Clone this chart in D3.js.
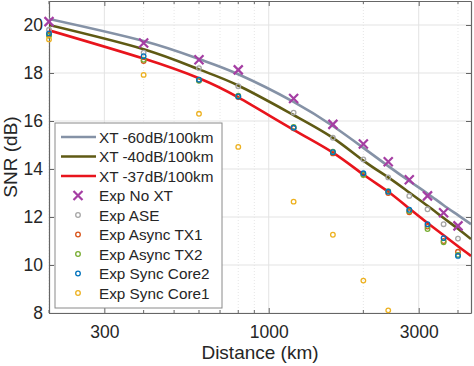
<!DOCTYPE html>
<html><head><meta charset="utf-8">
<script src="https://cdn.jsdelivr.net/npm/d3@7"></script>
<style>body{margin:0;background:#fff}svg{display:block}text{font-family:"Liberation Sans",Arial,sans-serif;fill:#262626}</style>
</head><body>
<script>
const distances = [200,400,600,800,1200,1600,2000,2400,2800,3200,3600,4000];
const curveDist = [200,400,600,800,1200,1600,2000,2400,2800,3200,3600,4000,4400];
const xt60 = [20.25,19.33,18.58,17.95,16.8,15.79,14.88,14.12,13.5,12.98,12.49,12.08,11.7];
const xt40 = [20.0,18.99,18.15,17.48,16.25,15.3,14.35,13.65,13.02,12.47,11.96,11.51,11.08];
const xt37 = [19.78,18.6,17.78,16.98,15.63,14.68,13.77,13.05,12.35,11.75,11.24,10.78,10.38];
const expNoXT = [20.14,19.25,18.55,18.13,16.94,15.86,15.04,14.3,13.55,12.88,12.18,11.63];
const expASE = [19.8,18.85,18.2,17.45,16.35,15.3,14.4,13.65,12.88,12.32,11.7,11.1];
const asyncTX1 = [19.6,18.5,17.7,17.0,15.7,14.65,13.78,13.0,12.2,11.6,11.0,10.55];
const asyncTX2 = [19.55,18.55,17.68,17.05,15.75,14.72,13.75,13.08,12.25,11.5,10.95,10.42];
const syncCore2 = [19.65,18.7,17.72,17.02,15.72,14.7,13.82,13.05,12.3,11.7,11.12,10.38];
const syncCore1 = [19.4,17.92,16.3,14.92,12.64,11.26,9.35,8.11];
const xTicks = [300,1000,3000];
const xMinor = [200,400,500,600,700,800,900,2000,4000];
const yTicks = [8,10,12,14,16,18,20];

const W=474,H=366, L=49,R=471,T=1,B=313;
const svg=d3.select("body").append("svg").attr("width",W).attr("height",H);
const x=d3.scaleLog().domain([200,4400]).range([L,R]);
const y=d3.scaleLinear().domain([8,21]).range([B,T]);

// grid
const g=svg.append("g");
g.selectAll(".mg").data(xMinor).join("line").attr("x1",d=>x(d)).attr("x2",d=>x(d)).attr("y1",T).attr("y2",B)
 .attr("stroke","#e6e6e6").attr("stroke-width",1).attr("stroke-dasharray","1,2");
g.selectAll(".xg").data(xTicks).join("line").attr("x1",d=>x(d)).attr("x2",d=>x(d)).attr("y1",T).attr("y2",B)
 .attr("stroke","#e3e3e3").attr("stroke-width",1);
g.selectAll(".yg").data(yTicks).join("line").attr("x1",L).attr("x2",R).attr("y1",d=>y(d)).attr("y2",d=>y(d))
 .attr("stroke","#e3e3e3").attr("stroke-width",1);

// axes
const axCol="#666666";
const xb=svg.append("g").attr("transform",`translate(0,${B})`).call(d3.axisBottom(x).tickValues(xTicks).tickFormat(d3.format("d")).tickSizeInner(-5).tickSizeOuter(0).tickPadding(13));
const xt=svg.append("g").attr("transform",`translate(0,${T})`).call(d3.axisTop(x).tickValues(xTicks).tickFormat("").tickSizeInner(-5).tickSizeOuter(0));
const yl=svg.append("g").attr("transform",`translate(${L},0)`).call(d3.axisLeft(y).tickValues(yTicks).tickSizeInner(-5).tickSizeOuter(0).tickPadding(6));
const yr=svg.append("g").attr("transform",`translate(${R},0)`).call(d3.axisRight(y).tickValues(yTicks).tickFormat("").tickSizeInner(-5).tickSizeOuter(0));
[xb,xt,yl,yr].forEach(a=>{a.select(".domain").attr("stroke",axCol).attr("stroke-width",1.2);a.selectAll("line").attr("stroke",axCol);
 a.selectAll("text").attr("font-size",17.5).attr("fill","#262626").attr("font-family","Liberation Sans, Arial, sans-serif");});
// minor ticks
[[B,-3],[T,3]].forEach(([yy,dy])=>{
 svg.append("g").selectAll("line").data(xMinor).join("line").attr("x1",d=>x(d)).attr("x2",d=>x(d)).attr("y1",yy).attr("y2",yy+dy).attr("stroke",axCol);
});

// curves
const line=(arr)=>d3.line().x((d,i)=>x(curveDist[i])).y(d=>y(d)).curve(d3.curveNatural)(arr);
const clip=svg.append("clipPath").attr("id","c").append("rect").attr("x",L).attr("y",T).attr("width",R-L).attr("height",B-T);
const curves=[[xt60,"#8592a6"],[xt40,"#5f5a14"],[xt37,"#e8141c"]];
curves.forEach(([arr,c])=>svg.append("path").attr("d",line(arr)).attr("fill","none").attr("stroke",c).attr("stroke-width",2.6).attr("clip-path","url(#c)"));

// circles
const circSeries=[[expASE,"#a6a6a6"],[asyncTX1,"#D95319"],[asyncTX2,"#77AC30"],[syncCore2,"#0072BD"],[syncCore1,"#EDB120"]];
circSeries.forEach(([arr,c])=>{
 svg.append("g").selectAll("circle").data(arr).join("circle").attr("cx",(d,i)=>x(distances[i])).attr("cy",d=>y(d)).attr("r",2.3)
  .attr("fill","none").attr("stroke",c).attr("stroke-width",1.3);
});
// X markers
const xm=svg.append("g");
const cross=(cx,cy,s)=>`M${cx-s},${cy-s}L${cx+s},${cy+s}M${cx-s},${cy+s}L${cx+s},${cy-s}`;
xm.selectAll("path").data(expNoXT).join("path").attr("d",(d,i)=>cross(x(distances[i]),y(d),4.5)).attr("stroke","#a53ea3").attr("stroke-width",2.2);

// legend
const lg=svg.append("g");
lg.append("rect").attr("x",55).attr("y",123).attr("width",167).attr("height",185).attr("fill","#fff").attr("stroke","#8a8a8a").attr("stroke-width",1);
const legendItems=[["XT -60dB/100km","line","#8592a6"],["XT -40dB/100km","line","#5f5a14"],["XT -37dB/100km","line","#e8141c"],
 ["Exp No XT","x","#a53ea3"],["Exp ASE","o","#a6a6a6"],["Exp Async TX1","o","#D95319"],["Exp Async TX2","o","#77AC30"],["Exp Sync Core2","o","#0072BD"],["Exp Sync Core1","o","#EDB120"]];
legendItems.forEach(([t,k,c],i)=>{
 const yy=137+i*19.5;
 if(k==="line") lg.append("line").attr("x1",61).attr("x2",96).attr("y1",yy).attr("y2",yy).attr("stroke",c).attr("stroke-width",2.6);
 else if(k==="x") lg.append("path").attr("d",cross(78,yy,4.5)).attr("stroke",c).attr("stroke-width",2.2);
 else lg.append("circle").attr("cx",78).attr("cy",yy).attr("r",2.3).attr("fill","none").attr("stroke",c).attr("stroke-width",1.3);
 lg.append("text").attr("x",99).attr("y",yy).attr("dy","0.36em").attr("font-size",15.3).text(t);
});

// axis labels
svg.append("text").attr("x",(L+R)/2).attr("y",359).attr("text-anchor","middle").attr("font-size",19).text("Distance (km)");
svg.append("text").attr("transform",`translate(17,${(T+B)/2}) rotate(-90)`).attr("text-anchor","middle").attr("font-size",19).text("SNR (dB)");
</script>
</body></html>
